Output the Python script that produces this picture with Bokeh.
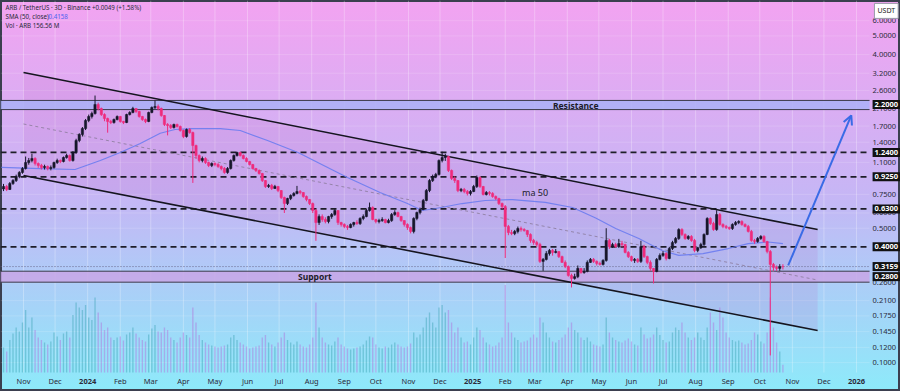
import datetime as dt
import pandas as pd
from bokeh.plotting import figure
from bokeh.models import Range1d, LinearScale, Label, Arrow, OpenHead, ColumnDataSource
from bokeh.embed import file_html
from bokeh.resources import INLINE
from bokeh.core.properties import value

# ---------------- data ----------------
START = "2023-10-13"          # first 3D candle
OPEN0 = 0.80
closes = [
    0.824, 0.795, 0.854, 0.885, 0.929, 0.975, 1.022, 1.098, 1.125, 1.152,
    1.085, 1.060, 1.035, 1.047, 1.022, 1.035, 1.098, 1.125, 1.112, 1.166,
    1.194, 1.125, 1.238, 1.430, 1.536, 1.650, 1.816, 1.905, 1.975, 2.200,
    2.097, 1.951, 1.860, 1.795, 1.773, 1.838, 1.905, 1.795, 1.773, 1.951,
    1.999, 2.097, 2.023, 1.905, 1.838, 1.795, 1.999, 2.122, 2.148, 2.097,
    1.928, 1.731, 1.711, 1.670, 1.731, 1.690, 1.611, 1.500, 1.631, 1.573,
    1.346, 1.194, 1.125, 1.152, 1.098, 1.060, 1.085, 1.072, 1.047, 1.022,
    0.975, 1.022, 1.125, 1.194, 1.238, 1.194, 1.152, 1.112, 1.072, 1.022,
    0.998, 0.963, 0.885, 0.824, 0.834, 0.805, 0.824, 0.785, 0.722, 0.672,
    0.714, 0.740, 0.758, 0.776, 0.767, 0.731, 0.705, 0.672, 0.618, 0.535,
    0.575, 0.555, 0.542, 0.575, 0.589, 0.618, 0.535, 0.523, 0.511, 0.504,
    0.523, 0.535, 0.529, 0.562, 0.575, 0.618, 0.641, 0.555, 0.542, 0.548,
    0.555, 0.535, 0.548, 0.589, 0.603, 0.575, 0.548, 0.523, 0.504, 0.481,
    0.562, 0.603, 0.626, 0.697, 0.785, 0.885, 0.929, 0.952, 1.125, 1.166,
    1.180, 0.998, 0.907, 0.885, 0.785, 0.795, 0.776, 0.758, 0.776, 0.824,
    0.918, 0.824, 0.749, 0.767, 0.758, 0.731, 0.714, 0.672, 0.648, 0.511,
    0.475, 0.469, 0.481, 0.498, 0.492, 0.486, 0.464, 0.432, 0.421, 0.411,
    0.336, 0.344, 0.369, 0.383, 0.374, 0.378, 0.356, 0.332, 0.316, 0.284,
    0.274, 0.280, 0.309, 0.294, 0.298, 0.332, 0.344, 0.336, 0.328, 0.324,
    0.340, 0.432, 0.401, 0.411, 0.401, 0.416, 0.411, 0.374, 0.356, 0.340,
    0.344, 0.336, 0.401, 0.356, 0.332, 0.309, 0.298, 0.344, 0.361, 0.369,
    0.348, 0.392, 0.421, 0.442, 0.492, 0.464, 0.442, 0.453, 0.432, 0.383,
    0.396, 0.411, 0.464, 0.562, 0.529, 0.492, 0.589, 0.523, 0.511, 0.504,
    0.498, 0.523, 0.535, 0.542, 0.523, 0.511, 0.481, 0.432, 0.426, 0.442,
    0.453, 0.426, 0.378, 0.324, 0.313, 0.309, 0.316, 0.3159,
]
highs = [
    0.85, 0.84, 0.87, 0.90, 0.95, 0.99, 1.04, 1.18, 1.16, 1.22,
    1.17, 1.10, 1.08, 1.07, 1.06, 1.06, 1.11, 1.15, 1.14, 1.18,
    1.22, 1.21, 1.26, 1.46, 1.56, 1.68, 1.85, 1.95, 2.02, 2.45,
    2.25, 2.12, 1.98, 1.88, 1.83, 1.86, 1.93, 1.92, 1.81, 1.97,
    2.03, 2.14, 2.11, 2.04, 1.92, 1.86, 2.02, 2.15, 2.31, 2.20,
    2.12, 1.94, 1.76, 1.74, 1.75, 1.75, 1.71, 1.63, 1.65, 1.66,
    1.59, 1.36, 1.21, 1.18, 1.17, 1.11, 1.10, 1.10, 1.09, 1.06,
    1.04, 1.04, 1.14, 1.21, 1.25, 1.25, 1.21, 1.17, 1.12, 1.08,
    1.03, 1.01, 0.97, 0.89, 0.85, 0.85, 0.84, 0.83, 0.79, 0.73,
    0.72, 0.75, 0.77, 0.83, 0.79, 0.77, 0.74, 0.71, 0.68, 0.63,
    0.59, 0.59, 0.57, 0.58, 0.60, 0.63, 0.62, 0.54, 0.53, 0.52,
    0.53, 0.54, 0.55, 0.57, 0.59, 0.63, 0.68, 0.65, 0.56, 0.56,
    0.57, 0.56, 0.56, 0.60, 0.62, 0.61, 0.58, 0.55, 0.53, 0.51,
    0.57, 0.61, 0.64, 0.71, 0.80, 0.90, 0.95, 0.97, 1.14, 1.25,
    1.22, 1.19, 1.01, 0.93, 0.89, 0.81, 0.81, 0.79, 0.79, 0.84,
    0.94, 0.93, 0.83, 0.78, 0.78, 0.77, 0.74, 0.72, 0.68, 0.66,
    0.52, 0.49, 0.49, 0.51, 0.51, 0.50, 0.49, 0.47, 0.44, 0.43,
    0.42, 0.35, 0.38, 0.39, 0.39, 0.39, 0.38, 0.36, 0.34, 0.32,
    0.29, 0.29, 0.32, 0.31, 0.31, 0.34, 0.35, 0.35, 0.34, 0.335,
    0.345, 0.50, 0.44, 0.42, 0.42, 0.44, 0.43, 0.415, 0.38, 0.36,
    0.35, 0.35, 0.43, 0.41, 0.36, 0.34, 0.31, 0.35, 0.37, 0.38,
    0.375, 0.40, 0.43, 0.45, 0.50, 0.50, 0.47, 0.46, 0.46, 0.44,
    0.40, 0.42, 0.47, 0.57, 0.57, 0.54, 0.62, 0.60, 0.53, 0.52,
    0.51, 0.53, 0.545, 0.55, 0.55, 0.53, 0.52, 0.49, 0.44, 0.45,
    0.46, 0.46, 0.43, 0.385, 0.33, 0.32, 0.325, 0.325,
]
lows = [
    0.78, 0.78, 0.79, 0.84, 0.87, 0.91, 0.96, 1.01, 1.07, 1.10,
    1.06, 1.03, 1.01, 1.01, 1.00, 1.00, 1.02, 1.08, 1.09, 1.10,
    1.15, 1.11, 1.11, 1.22, 1.40, 1.50, 1.62, 1.78, 1.86, 1.95,
    2.05, 1.92, 1.80, 1.57, 1.74, 1.75, 1.82, 1.77, 1.74, 1.76,
    1.93, 1.98, 1.99, 1.88, 1.81, 1.76, 1.78, 1.98, 2.08, 2.05,
    1.90, 1.70, 1.52, 1.64, 1.65, 1.67, 1.59, 1.47, 1.48, 1.55,
    0.86, 1.15, 1.10, 1.10, 1.08, 1.04, 1.04, 1.05, 1.03, 1.00,
    0.96, 0.96, 1.01, 1.11, 1.18, 1.18, 1.14, 1.10, 1.06, 1.01,
    0.98, 0.95, 0.87, 0.81, 0.81, 0.79, 0.80, 0.77, 0.71, 0.60,
    0.66, 0.70, 0.73, 0.75, 0.75, 0.72, 0.69, 0.66, 0.60, 0.43,
    0.52, 0.54, 0.53, 0.53, 0.56, 0.58, 0.52, 0.51, 0.50, 0.49,
    0.50, 0.51, 0.52, 0.52, 0.55, 0.57, 0.61, 0.55, 0.53, 0.53,
    0.54, 0.53, 0.53, 0.54, 0.58, 0.57, 0.54, 0.51, 0.49, 0.47,
    0.47, 0.55, 0.59, 0.62, 0.69, 0.77, 0.87, 0.91, 0.94, 1.10,
    1.12, 0.98, 0.89, 0.86, 0.77, 0.77, 0.76, 0.74, 0.74, 0.77,
    0.81, 0.81, 0.74, 0.74, 0.74, 0.72, 0.70, 0.66, 0.63, 0.35,
    0.46, 0.46, 0.46, 0.47, 0.48, 0.48, 0.45, 0.42, 0.41, 0.40,
    0.33, 0.30, 0.34, 0.36, 0.36, 0.37, 0.35, 0.33, 0.31, 0.28,
    0.246, 0.27, 0.275, 0.29, 0.29, 0.295, 0.33, 0.33, 0.32, 0.32,
    0.32, 0.335, 0.39, 0.395, 0.395, 0.395, 0.40, 0.37, 0.35, 0.335,
    0.33, 0.33, 0.33, 0.35, 0.325, 0.30, 0.258, 0.295, 0.34, 0.355,
    0.34, 0.345, 0.385, 0.415, 0.435, 0.455, 0.435, 0.435, 0.425, 0.375,
    0.375, 0.39, 0.405, 0.46, 0.52, 0.485, 0.485, 0.515, 0.50, 0.495,
    0.49, 0.49, 0.515, 0.525, 0.515, 0.505, 0.475, 0.425, 0.415, 0.42,
    0.435, 0.42, 0.37, 0.109, 0.30, 0.30, 0.30, 0.305,
]
volumes_m = [
    500, 420, 650, 780, 900, 820, 1000, 1250, 900, 1100,
    850, 700, 650, 600, 560, 620, 800, 720, 650, 780,
    820, 700, 1150, 1400, 1300, 1250, 1350, 1100, 1050, 1500,
    1200, 1000, 850, 900, 700, 650, 700, 720, 640, 760,
    800, 900, 780, 700, 650, 620, 760, 880, 950, 820,
    800, 900, 850, 700, 650, 600, 700, 800, 750, 700,
    1300, 1000, 750, 650, 600, 560, 540, 520, 500, 520,
    540, 560, 700, 750, 650, 600, 560, 520, 480, 500,
    520, 540, 700, 750, 600, 560, 520, 600, 700, 800,
    650, 600, 560, 620, 560, 520, 500, 560, 700, 1400,
    900, 700, 600, 560, 540, 620, 700, 560, 520, 480,
    460, 480, 500, 520, 560, 640, 720, 700, 560, 500,
    480, 520, 500, 560, 600, 560, 520, 500, 520, 580,
    800, 700, 760, 900, 1100, 1200, 1000, 900, 1300, 1350,
    1200, 1250, 1000, 800, 900, 700, 600, 620, 560, 700,
    900, 850, 700, 600, 560, 520, 540, 600, 700, 1750,
    1000, 800, 700, 650, 600, 620, 640, 700, 760, 700,
    1100, 1000, 800, 700, 620, 600, 650, 700, 760, 900,
    1000, 850, 800, 700, 650, 700, 620, 560, 540, 520,
    560, 1100, 800, 700, 650, 620, 600, 640, 680, 620,
    560, 540, 900, 760, 680, 700, 760, 900, 750, 650,
    600, 620, 800, 900, 850, 1000, 800, 700, 650, 700,
    800, 700, 650, 900, 1200, 1000, 850, 1300, 1100, 800,
    700, 650, 620, 640, 600, 560, 580, 650, 800, 760,
    620, 580, 800, 1500, 900, 600, 420, 156.56,
]
assert len(closes) == len(highs) == len(lows) == len(volumes_m)

sma_dates = ["2023-10-11", "2023-11-17", "2023-12-20", "2024-01-13", "2024-02-01",
             "2024-02-20", "2024-03-10", "2024-03-24", "2024-04-08", "2024-05-06",
             "2024-05-25", "2024-06-20", "2024-07-19", "2024-08-03", "2024-09-04",
             "2024-10-05", "2024-10-31", "2024-11-14", "2024-11-27", "2024-12-22",
             "2025-01-13", "2025-02-08", "2025-03-11", "2025-04-06", "2025-04-28",
             "2025-05-17", "2025-06-08", "2025-06-30", "2025-07-16", "2025-08-08",
             "2025-09-01", "2025-09-20", "2025-10-09", "2025-10-23"]
sma_values = [1.035, 1.022, 1.010, 1.125, 1.238,
              1.380, 1.560, 1.631, 1.650, 1.650,
              1.611, 1.430, 1.238, 1.125, 0.918,
              0.767, 0.672, 0.618, 0.633, 0.672,
              0.697, 0.705, 0.681, 0.641, 0.565,
              0.498, 0.442, 0.383, 0.361, 0.369,
              0.392, 0.416, 0.424, 0.4158]

price_ticks = [6.0, 5.0, 4.0, 3.2, 2.6, 2.1, 1.7, 1.4, 1.1, 0.75, 0.6, 0.5,
               0.26, 0.21, 0.175, 0.145, 0.12, 0.10]
dashed_levels = [1.24, 0.925, 0.63, 0.40]
boxed_levels = [2.2, 1.24, 0.925, 0.63, 0.40, 0.3159, 0.28]
last_price = 0.3159
resistance_zone = [2.07, 2.31]
support_zone = [0.262, 0.2988]
channel_dates = ["2023-11-01", "2025-11-25"]
channel_upper = [3.23, 0.492]
channel_lower = [0.940, 0.1469]
channel_mid = [1.742, 0.2689]
arrow_dates = ["2025-10-28", "2025-12-27"]
arrow_prices = [0.32, 1.93]
month_names = ["", "Feb", "Mar", "Apr", "May", "Jun", "Jul", "Aug", "Sep", "Oct", "Nov", "Dec"]

# ---------------- view geometry ----------------
X_LEFT = dt.datetime(2023, 10, 10, 3)      # left edge of the picture
X_RIGHT = dt.datetime(2026, 2, 11, 19)     # right edge (price scale included)
X_PANE_END = dt.datetime(2026, 1, 13, 9)   # where the price pane ends
X_SCALE_TXT = dt.datetime(2026, 1, 16, 6)  # left of price-scale texts
Y_TOP, Y_BOTTOM = 7.645, 0.07075           # top / bottom of the picture
Y_PANE_BOTTOM = 0.0888                     # bottom of the price pane
Y_TIME_TXT = 0.0800                        # time-scale text row

def ms(s):
    return pd.Timestamp(s).value // 10**6

dates = pd.date_range(START, periods=len(closes), freq="3D")
opens = [OPEN0] + closes[:-1]
UP, DOWN = "#17172b", "#ef2b7c"
up = [c >= o for o, c in zip(opens, closes)]
src = ColumnDataSource(dict(
    x=dates, o=opens, c=closes, h=highs, l=lows, v=volumes_m,
    col=[UP if u else DOWN for u in up],
    vcol=["#2f9bab" if u else "#b35fd6" for u in up],
))

FONT = "Noto Sans"
TXT = "#2b2b3b"

p = figure(width=900, height=391, x_axis_type="datetime", y_axis_type="log",
           x_axis_location=None, y_axis_location=None,
           x_range=Range1d(X_LEFT, X_RIGHT), y_range=Range1d(Y_BOTTOM, Y_TOP),
           output_backend="svg", toolbar_location=None,
           min_border=0, background_fill_alpha=0, border_fill_alpha=0,
           outline_line_color="#3b3f4f", outline_line_width=3,
           styles={"background": "linear-gradient(to bottom, #f3a3f1 0%, #c6b6f5 50%, #8deafa 100%)"})
p.grid.visible = False
p.extra_y_ranges = {"vol": Range1d(-380, 7440)}
p.extra_y_scales = {"vol": LinearScale()}

month_ticks = list(pd.date_range("2023-11-01", "2026-01-01", freq="MS"))

# grid
p.segment(x0=month_ticks, x1=month_ticks, y0=Y_PANE_BOTTOM, y1=Y_TOP,
          line_color="white", line_alpha=0.28, line_width=1)
p.segment(x0=X_LEFT, x1=X_PANE_END, y0=price_ticks, y1=price_ticks,
          line_color="white", line_alpha=0.15, line_width=1)

# channel fill + zones
cd = [pd.Timestamp(d) for d in channel_dates]
p.patch(x=[cd[0], cd[1], cd[1], cd[0]],
        y=[channel_upper[0], channel_upper[1], channel_lower[1], channel_lower[0]],
        fill_color="#b84fb8", fill_alpha=0.13, line_color=None)
for zone, fc in ((resistance_zone, "#a9b0f7"), (support_zone, "#c8a6e6")):
    p.quad(left=X_LEFT, right=X_PANE_END, bottom=zone[0], top=zone[1],
           fill_color=fc, fill_alpha=0.85, line_color=None)
    p.segment(x0=X_LEFT, x1=X_PANE_END, y0=zone, y1=zone, line_color="#3a3a4a", line_width=1)

# volume
p.vbar(x="x", top="v", bottom=0, width=1.3 * 86400000, y_range_name="vol",
       fill_color="vcol", line_color=None, fill_alpha=0.4, source=src)

# levels
p.segment(x0=X_LEFT, x1=X_PANE_END, y0=dashed_levels, y1=dashed_levels,
          line_color="#1e1e28", line_width=1.6, line_dash="6 4")
p.segment(x0=X_LEFT, x1=X_PANE_END, y0=last_price, y1=last_price,
          line_color="#6a6a8c", line_width=1, line_dash="1 2")

# channel lines
p.line(x=cd, y=channel_mid, line_color="#8a7a9a", line_width=1, line_dash="3 3", line_alpha=0.8)
p.line(x=cd, y=channel_upper, line_color="#15151f", line_width=1.6)
p.line(x=cd, y=channel_lower, line_color="#15151f", line_width=1.6)

# SMA 50
p.line(x=[pd.Timestamp(d) for d in sma_dates], y=sma_values,
       line_color="#6b7cf0", line_width=1.2, line_alpha=0.9)

# candles
p.segment(x0="x", y0="h", x1="x", y1="l", line_color="col", line_width=1, source=src)
p.vbar(x="x", top="o", bottom="c", width=2.2 * 86400000, fill_color="col",
       line_color="col", line_width=0.5, source=src)

# arrow
AR = "#3a6be6"
p.add_layout(Arrow(x_start=ms(arrow_dates[0]), y_start=arrow_prices[0],
                   x_end=ms(arrow_dates[1]), y_end=arrow_prices[1],
                   line_color=AR, line_width=2,
                   end=OpenHead(size=9, line_color=AR, line_width=2)))

# zone / ma texts
p.text(x=[pd.Timestamp("2025-04-09")], y=[2.187], text=["Resistance"],
       text_font=value(FONT), text_font_size="8.5px", text_font_style="bold",
       text_align="center", text_baseline="middle", text_color="#1c1c2a")
p.text(x=[pd.Timestamp("2024-08-04")], y=[0.2798], text=["Support"],
       text_font=value(FONT), text_font_size="8.5px", text_font_style="bold",
       text_align="center", text_baseline="middle", text_color="#1c1c2a")
p.text(x=[pd.Timestamp("2025-02-17")], y=[0.77], text=["ma 50"],
       text_font=value(FONT), text_font_size="9px",
       text_align="left", text_baseline="middle", text_color="#1c1c2a")

# price scale texts
p.text(x=X_SCALE_TXT, y=price_ticks, text=[f"{t:.4f}" for t in price_ticks],
       text_font=value(FONT), text_font_size="7.5px", text_align="left",
       text_baseline="middle", text_color=TXT)
for lv in boxed_levels:
    p.add_layout(Label(x=ms(X_SCALE_TXT), y=lv, text=f"{lv:.4f}", text_align="left",
                       text_baseline="middle", text_font=FONT, text_font_size="7.5px",
                       text_font_style="bold", text_color="white",
                       background_fill_color="#121212", background_fill_alpha=1.0,
                       padding=2))
p.add_layout(Label(x=ms("2026-01-18"), y=6.75, text="USDT", text_align="left",
                   text_baseline="middle", text_font=FONT, text_font_size="7px",
                   text_color="#222", background_fill_color="white",
                   border_line_color="#9a9aa8", padding=3))

# time scale texts
months = [t for t in month_ticks if t.month != 1]
years = [t for t in month_ticks if t.month == 1]
p.text(x=months, y=Y_TIME_TXT, text=[month_names[t.month - 1] for t in months],
       text_font=value(FONT), text_font_size="7.5px", text_align="center",
       text_baseline="middle", text_color=TXT)
p.text(x=years, y=Y_TIME_TXT, text=[str(t.year) for t in years],
       text_font=value(FONT), text_font_size="7.5px", text_font_style="bold",
       text_align="center", text_baseline="middle", text_color=TXT)

# legend texts (top-left)
for txt, yv, xo, colr in [
    ("ARB / TetherUS · 3D · Binance  +0.0049 (+1.58%)", 7.05, 5, "#2a2a3a"),
    ("SMA (50, close)", 6.3, 5, "#2a2a3a"),
    ("0.4158", 6.3, 48, "#4b63f0"),
    ("Vol · ARB  156.56 M", 5.65, 5, "#2a2a3a"),
]:
    p.add_layout(Label(x=xo, x_units="screen", y=yv, text=txt, text_align="left",
                       text_baseline="middle", text_font=FONT, text_font_size="6.2px",
                       text_color=colr))

open("out.html", "w").write(file_html(p, INLINE))
